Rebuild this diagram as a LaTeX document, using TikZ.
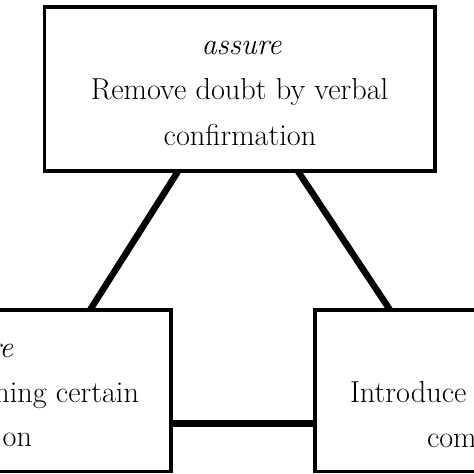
\documentclass[tikz,border=0pt]{standalone}
\begin{document}
\begin{tikzpicture}[x=1pt,y=-1pt,
  box/.style={draw=black,line width=3.8pt,rectangle,inner sep=0pt,outer sep=0pt},
  conn/.style={draw=black,line width=6.5pt},
  txt/.style={inner sep=0pt,outer sep=0pt,font=\fontsize{30.3}{36}\selectfont},
  itxt/.style={txt,font=\fontsize{30.3}{36}\selectfont\itshape}]
\useasboundingbox (0,0) rectangle (474,474);
\clip (0,0) rectangle (474,474);
% boxes
\node[box,minimum width=390.2pt,minimum height=164.3pt] (top) at (239.6,89.2) {};
\node[box,minimum width=390pt,minimum height=161.5pt] (left) at (-24,390.75) {};
\node[box,minimum width=390pt,minimum height=161.5pt] (right) at (510,390.75) {};
% connectors
\draw[conn] ([xshift=133.5pt]top.south west) -- ([xshift=-81pt]left.north east);
\draw[conn] ([xshift=253.5pt]top.south west) -- ([xshift=75pt]right.north west);
\draw[conn] ([yshift=-32.5pt]left.east) -- ([yshift=-32.5pt]right.west);
% texts
\node[itxt,anchor=base] (t1) at (241.5,54) {assure};
\node[txt,anchor=base] (t2) at (239.5,99) {Remove doubt by verbal};
\node[txt,anchor=base] (t3) at (240,145) {confirmation};
\node[itxt,anchor=base east] (l1) at (13,357) {re};
\node[txt,anchor=base east] (l2) at (139,402) {ning certain};
\node[txt,anchor=base east] (l3) at (32,446) {on};
\node[txt,anchor=base west] (r1) at (350,402) {Introduce};
\node[txt,anchor=base west] (r2) at (427,447) {com};
\end{tikzpicture}
\end{document}
